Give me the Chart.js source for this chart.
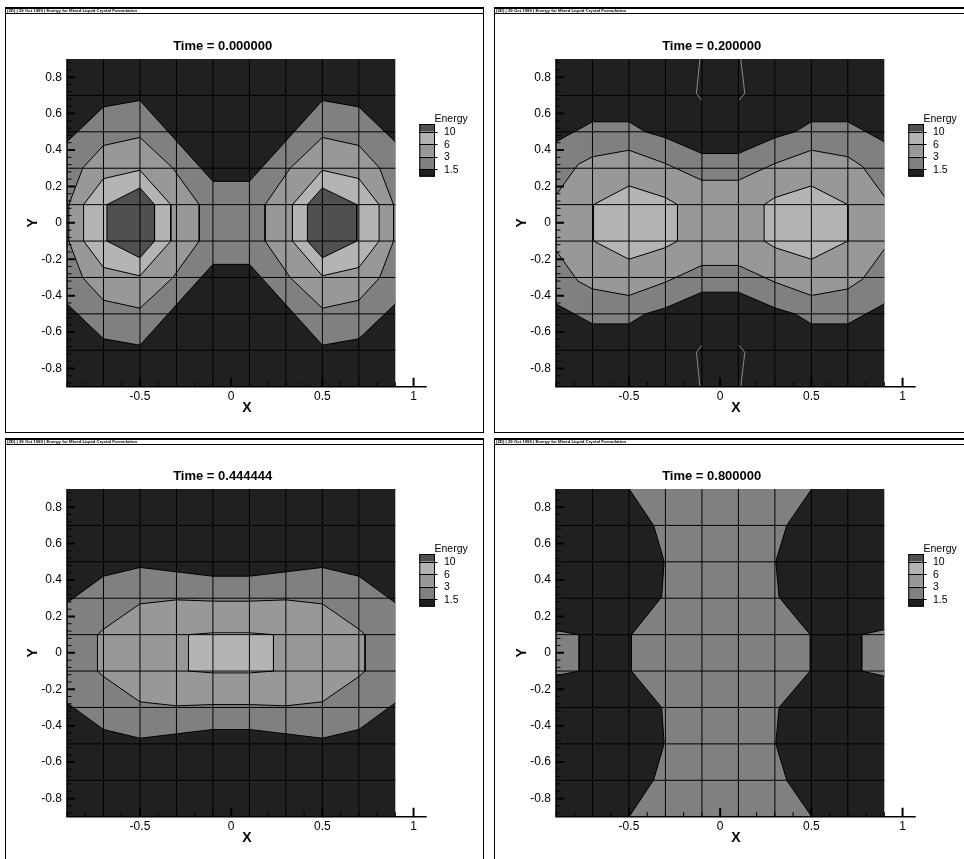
<!DOCTYPE html>
<html>
<head>
<meta charset="utf-8">
<title>Energy for Mixed Liquid Crystal Formulation</title>
<script src="https://cdn.jsdelivr.net/npm/chart.js@4.4.1/dist/chart.umd.min.js"></script>
<style>
  html, body { margin: 0; padding: 0; background: #fff; }
  body { position: relative; width: 964px; height: 859px; overflow: hidden; font-family: "Liberation Sans", Arial, sans-serif; }
  canvas { position: absolute; }
  .frame { position: absolute; border: 1px solid #000; box-sizing: border-box; pointer-events: none; }
  .frame .hdr { height: 4px; border-top: 1px solid #000; border-bottom: 1px solid #000; font-size: 4.3px; font-weight: bold; line-height: 4px; padding-left: 1px; white-space: nowrap; overflow: hidden; }
</style>
</head>
<body>
<canvas id="c0" width="482" height="430" style="left:0;top:0"></canvas>
<canvas id="c1" width="475" height="430" style="left:489px;top:0"></canvas>
<canvas id="c2" width="482" height="430" style="left:0;top:430px"></canvas>
<canvas id="c3" width="475" height="430" style="left:489px;top:430px"></canvas>

<div class="frame" style="left:5px;top:7px;width:479px;height:426px"><div class="hdr">(2D) | 29 Oct 1999 | Energy for Mixed Liquid Crystal Formulation</div></div>
<div class="frame" style="left:494px;top:7px;width:480px;height:426px"><div class="hdr">(2D) | 29 Oct 1999 | Energy for Mixed Liquid Crystal Formulation</div></div>
<div class="frame" style="left:5px;top:438px;width:479px;height:430px"><div class="hdr">(2D) | 29 Oct 1999 | Energy for Mixed Liquid Crystal Formulation</div></div>
<div class="frame" style="left:494px;top:438px;width:480px;height:430px"><div class="hdr">(2D) | 29 Oct 1999 | Energy for Mixed Liquid Crystal Formulation</div></div>

<script>
// ---- data ----
const panelTitles = ['Time = 0.000000', 'Time = 0.200000', 'Time = 0.444444', 'Time = 0.800000'];

// contour levels and the band colours (below 1.5, 1.5-3, 3-6, 6-10, above 10)
const energyLevels = ['10', '6', '3', '1.5'];
const bandColors = ['#202020', '#808080', '#989898', '#b4b4b4', '#505050'];

// mesh of the computation (interior grid lines) and the domain
const domainX = [-0.9, 0.9];
const domainY = [-0.9, 0.9];
const meshX = [-0.7, -0.5, -0.3, -0.1, 0.1, 0.3, 0.5, 0.7];
const meshY = [-0.7, -0.5, -0.3, -0.1, 0.1, 0.3, 0.5, 0.7];

const xTickValues = [-0.5, 0, 0.5, 1];
const xTickLabels = ['-0.5', '0', '0.5', '1'];
const yTickValues = [-0.8, -0.6, -0.4, -0.2, 0, 0.2, 0.4, 0.6, 0.8];
const yTickLabels = ['-0.8', '-0.6', '-0.4', '-0.2', '0', '0.2', '0.4', '0.6', '0.8'];

// Time = 0.000000
const t0Level15 = [[-0.9,0.445],[-0.7,0.637],[-0.5,0.672],[-0.3,0.45],[-0.1,0.228],[0.1,0.228],[0.3,0.45],[0.5,0.672],[0.7,0.637],[0.9,0.445],
  [0.9,-0.445],[0.7,-0.637],[0.5,-0.672],[0.3,-0.45],[0.1,-0.228],[-0.1,-0.228],[-0.3,-0.45],[-0.5,-0.672],[-0.7,-0.637],[-0.9,-0.445]];
const t0Level3Left = [[-0.89,0.1],[-0.813,0.302],[-0.7,0.425],[-0.5,0.469],[-0.321,0.302],[-0.175,0.1],[-0.175,-0.1],[-0.321,-0.302],[-0.5,-0.469],[-0.7,-0.425],[-0.813,-0.302],[-0.89,-0.1]];
const t0Level3Right = [[0.89,0.1],[0.813,0.302],[0.7,0.425],[0.5,0.469],[0.325,0.302],[0.186,0.1],[0.186,-0.1],[0.325,-0.302],[0.5,-0.469],[0.7,-0.425],[0.813,-0.302],[0.89,-0.1]];
const t0Level6Left = [[-0.809,0.1],[-0.7,0.243],[-0.5,0.289],[-0.331,0.1],[-0.331,-0.1],[-0.5,-0.291],[-0.7,-0.245],[-0.809,-0.1]];
const t0Level6Right = [[0.811,0.1],[0.7,0.243],[0.5,0.289],[0.336,0.1],[0.336,-0.1],[0.5,-0.291],[0.7,-0.245],[0.811,-0.1]];
const t0Level10Left = [[-0.681,0.1],[-0.5,0.192],[-0.42,0.1],[-0.42,-0.1],[-0.5,-0.192],[-0.681,-0.1]];
const t0Level10Right = [[0.418,0.1],[0.5,0.192],[0.689,0.1],[0.689,-0.1],[0.5,-0.192],[0.418,-0.1]];

// Time = 0.200000
const t2Level15 = [[-0.9,0.445],[-0.7,0.555],[-0.5,0.555],[-0.41,0.5],[-0.3,0.467],[-0.1,0.381],[0.1,0.381],[0.3,0.467],[0.41,0.5],[0.5,0.555],[0.7,0.555],[0.9,0.445],
  [0.9,-0.445],[0.7,-0.555],[0.5,-0.555],[0.41,-0.5],[0.3,-0.467],[0.1,-0.381],[-0.1,-0.381],[-0.3,-0.467],[-0.41,-0.5],[-0.5,-0.555],[-0.7,-0.555],[-0.9,-0.445]];
const t2Level3 = [[-0.9,0.152],[-0.78,0.32],[-0.7,0.363],[-0.5,0.399],[-0.3,0.326],[-0.1,0.234],[0.1,0.234],[0.3,0.326],[0.5,0.399],[0.7,0.363],[0.78,0.31],[0.9,0.145],
  [0.9,-0.145],[0.78,-0.31],[0.7,-0.363],[0.5,-0.399],[0.3,-0.326],[0.1,-0.234],[-0.1,-0.234],[-0.3,-0.326],[-0.5,-0.399],[-0.7,-0.363],[-0.78,-0.32],[-0.9,-0.152]];
const t2Level6Left = [[-0.694,0.1],[-0.5,0.203],[-0.3,0.139],[-0.234,0.1],[-0.234,-0.1],[-0.3,-0.136],[-0.5,-0.2],[-0.694,-0.1]];
const t2Level6Right = [[0.241,0.1],[0.3,0.139],[0.5,0.203],[0.7,0.1],[0.7,-0.1],[0.5,-0.2],[0.3,-0.136],[0.241,-0.1]];
const t2ThinLines = [
  [[-0.111,0.9],[-0.13,0.711],[-0.102,0.674]],
  [[0.113,0.9],[0.135,0.711],[0.104,0.674]],
  [[-0.102,-0.674],[-0.13,-0.711],[-0.111,-0.9]],
  [[0.104,-0.674],[0.135,-0.711],[0.113,-0.9]]
];

// Time = 0.444444
const t4Level15 = [[-0.9,0.275],[-0.7,0.421],[-0.5,0.469],[-0.3,0.445],[-0.1,0.421],[0.1,0.421],[0.3,0.445],[0.5,0.469],[0.7,0.421],[0.9,0.275],
  [0.9,-0.275],[0.7,-0.421],[0.5,-0.469],[0.3,-0.445],[0.1,-0.421],[-0.1,-0.421],[-0.3,-0.445],[-0.5,-0.469],[-0.7,-0.421],[-0.9,-0.275]];
const t4Level3 = [[-0.733,0.1],[-0.7,0.13],[-0.5,0.269],[-0.3,0.291],[-0.1,0.284],[0.1,0.284],[0.3,0.291],[0.5,0.269],[0.7,0.13],[0.734,0.1],
  [0.734,-0.1],[0.7,-0.13],[0.5,-0.269],[0.3,-0.291],[0.1,-0.284],[-0.1,-0.284],[-0.3,-0.291],[-0.5,-0.269],[-0.7,-0.13],[-0.733,-0.1]];
const t4Level6 = [[-0.234,0.1],[-0.1,0.11],[0.1,0.11],[0.232,0.1],[0.232,-0.1],[0.1,-0.11],[-0.1,-0.11],[-0.234,-0.1]];

// Time = 0.800000
const t8Level15Centre = [[-0.4986,0.9],[-0.365,0.7],[-0.307,0.502],[-0.321,0.306],[-0.486,0.1],[-0.486,-0.1],[-0.321,-0.3],[-0.307,-0.5],[-0.365,-0.698],[-0.4986,-0.9],
  [0.502,-0.9],[0.365,-0.7],[0.305,-0.5],[0.323,-0.3],[0.493,-0.1],[0.493,0.1],[0.323,0.306],[0.305,0.502],[0.365,0.7],[0.502,0.9]];
const t8Level15Left = [[-0.9,0.123],[-0.773,0.1],[-0.773,-0.1],[-0.9,-0.125]];
const t8Level15Right = [[0.9,0.128],[0.776,0.1],[0.776,-0.1],[0.9,-0.128]];

// which band each region belongs to (index into bandColors)
const panelRegions = [
  [[t0Level15, 1], [t0Level3Left, 2], [t0Level3Right, 2], [t0Level6Left, 3], [t0Level6Right, 3], [t0Level10Left, 4], [t0Level10Right, 4]],
  [[t2Level15, 1], [t2Level3, 2], [t2Level6Left, 3], [t2Level6Right, 3]],
  [[t4Level15, 1], [t4Level3, 2], [t4Level6, 3]],
  [[t8Level15Centre, 1], [t8Level15Left, 1], [t8Level15Right, 1]]
];
const panelThinLines = [[], t2ThinLines, [], []];

// ---- drawing ----
const FONT = '"Liberation Sans", Arial, Helvetica, sans-serif';
const X_MAX = 1.072;

function onDomainEdge(a, b) {
  const e = 0.895;
  return (Math.abs(a[0]) >= e && Math.abs(b[0]) >= e && Math.sign(a[0]) === Math.sign(b[0])) ||
         (Math.abs(a[1]) >= e && Math.abs(b[1]) >= e && Math.sign(a[1]) === Math.sign(b[1]));
}

// filled region, no outline
function regionSet(pts, color) {
  return {
    data: pts.concat([pts[0]]).map(p => ({ x: p[0], y: p[1] })),
    fill: 'shape',
    backgroundColor: color,
    borderColor: 'rgba(0,0,0,0)',
    borderWidth: 0,
    pointRadius: 0,
    tension: 0
  };
}

// contour line around a region, broken where it runs along the domain edge
function contourSet(pts) {
  const ring = pts.concat([pts[0]]);
  const data = [];
  for (let i = 0; i < ring.length; i++) {
    data.push({ x: ring[i][0], y: ring[i][1] });
    if (i < ring.length - 1 && onDomainEdge(ring[i], ring[i + 1])) data.push({ x: ring[i][0], y: null });
  }
  return {
    data,
    fill: false,
    spanGaps: false,
    borderColor: '#000',
    borderWidth: 1,
    pointRadius: 0,
    tension: 0
  };
}

function lineSet(pts, color) {
  return {
    data: pts.map(p => ({ x: p[0], y: p[1] })),
    fill: false,
    borderColor: color,
    borderWidth: 1,
    pointRadius: 0,
    tension: 0
  };
}

function buildDatasets(regions, thinLines) {
  const sets = [];
  const domain = [[domainX[0], domainY[0]], [domainX[1], domainY[0]], [domainX[1], domainY[1]], [domainX[0], domainY[1]]];
  sets.push(regionSet(domain, bandColors[0]));
  regions.forEach(([pts, band]) => sets.push(regionSet(pts, bandColors[band])));
  regions.forEach(([pts]) => sets.push(contourSet(pts)));
  meshX.forEach(x => sets.push(lineSet([[x, domainY[0]], [x, domainY[1]]], '#000')));
  meshY.forEach(y => sets.push(lineSet([[domainX[0], y], [domainX[1], y]], '#000')));
  thinLines.forEach(pts => sets.push(lineSet(pts, '#8a8a8a')));
  // first dataset at the bottom of the stack
  sets.forEach((s, i) => { s.order = sets.length - i; });
  return sets;
}

// axis lines with inward tick marks, Tecplot style
const axisPlugin = {
  id: 'tecAxes',
  afterDatasetsDraw(chart) {
    const { ctx, chartArea: a, scales: { x, y } } = chart;
    ctx.save();
    ctx.strokeStyle = '#000';
    ctx.lineWidth = 1.5;
    ctx.beginPath();
    ctx.moveTo(a.left, a.top);
    ctx.lineTo(a.left, a.bottom);
    ctx.lineTo(a.right, a.bottom);
    ctx.stroke();

    // major ticks
    ctx.lineWidth = 2;
    ctx.beginPath();
    xTickValues.forEach(v => {
      const px = x.getPixelForValue(v);
      ctx.moveTo(px, a.bottom);
      ctx.lineTo(px, a.bottom - 9);
    });
    yTickValues.forEach(v => {
      const py = y.getPixelForValue(v);
      ctx.moveTo(a.left, py);
      ctx.lineTo(a.left + 8, py);
    });
    ctx.stroke();

    // minor ticks
    ctx.lineWidth = 1;
    ctx.beginPath();
    for (let k = -9; k <= 10; k++) {
      if (k % 5 === 0) continue;
      const px = x.getPixelForValue(k / 10);
      ctx.moveTo(px, a.bottom);
      ctx.lineTo(px, a.bottom - 4.5);
    }
    for (let k = -22; k <= 22; k++) {
      if (k % 5 === 0) continue;
      const py = y.getPixelForValue(k * 0.04);
      ctx.moveTo(a.left, py);
      ctx.lineTo(a.left + 4.5, py);
    }
    ctx.stroke();
    ctx.restore();
  }
};

// contour legend to the right of the plot
const legendPlugin = {
  id: 'energyLegend',
  afterDraw(chart) {
    const { ctx, chartArea: a } = chart;
    const left = a.left + 352.3, w = 15.7;
    const edges = [65, 72.7, 85.3, 97.7, 110.3, 117.7].map(v => a.top + v);
    ctx.save();
    // swatches: top band is the highest level
    for (let i = 0; i < 5; i++) {
      ctx.fillStyle = bandColors[4 - i];
      ctx.fillRect(left, edges[i], w, edges[i + 1] - edges[i]);
    }
    ctx.strokeStyle = '#000';
    ctx.lineWidth = 1;
    ctx.strokeRect(left + 0.5, edges[0] + 0.5, w - 1, edges[5] - edges[0] - 1);
    ctx.beginPath();
    for (let i = 1; i < 5; i++) {
      ctx.moveTo(left, Math.round(edges[i]) + 0.5);
      ctx.lineTo(left + w + 2.5, Math.round(edges[i]) + 0.5);
    }
    ctx.stroke();
    ctx.fillStyle = '#000';
    ctx.font = '10.5px ' + FONT;
    ctx.textBaseline = 'middle';
    ctx.textAlign = 'left';
    ctx.fillText('Energy', a.left + 367.5, a.top + 60.5);
    energyLevels.forEach((lab, i) => ctx.fillText(lab, a.left + 377, edges[i + 1] + 0.5));
    ctx.restore();
  }
};

function makeChart(id, idx) {
  const canvas = document.getElementById(id);
  const W = canvas.width;
  const chartRight = 426.7;
  return new Chart(canvas, {
    type: 'line',
    data: { datasets: buildDatasets(panelRegions[idx], panelThinLines[idx]) },
    options: {
      responsive: false,
      animation: false,
      devicePixelRatio: 1,
      events: [],
      layout: { padding: { left: 18.7, right: W - chartRight, top: 0, bottom: 0 } },
      plugins: {
        legend: { display: false },
        tooltip: { enabled: false },
        title: {
          display: true,
          text: panelTitles[idx],
          color: '#000',
          font: { family: FONT, size: 13, weight: 'bold' },
          padding: { top: 38.9, bottom: 4.5 }
        }
      },
      scales: {
        x: {
          type: 'linear',
          min: domainX[0],
          max: X_MAX,
          grid: { display: false, drawTicks: false },
          border: { display: false },
          afterBuildTicks: s => { s.ticks = xTickValues.map(v => ({ value: v })); },
          afterFit: s => { s.height = 43.3; },
          ticks: {
            autoSkip: false,
            maxRotation: 0,
            padding: 2.5,
            color: '#000',
            font: { family: FONT, size: 12 },
            callback: (v, i) => xTickLabels[i]
          },
          title: {
            display: true,
            text: 'X',
            color: '#000',
            font: { family: FONT, size: 14, weight: 'bold' },
            padding: { top: 0, bottom: 13.3 }
          }
        },
        y: {
          type: 'linear',
          min: domainY[0],
          max: domainY[1],
          grid: { display: false, drawTicks: false },
          border: { display: false },
          afterBuildTicks: s => { s.ticks = yTickValues.map(v => ({ value: v })); },
          afterFit: s => { s.width = 48.3; },
          ticks: {
            autoSkip: false,
            padding: 5,
            color: '#000',
            font: { family: FONT, size: 12 },
            callback: (v, i) => yTickLabels[i]
          },
          title: {
            display: true,
            text: 'Y',
            color: '#000',
            font: { family: FONT, size: 14, weight: 'bold' },
            padding: { top: 5.9, bottom: 0 }
          }
        }
      }
    },
    plugins: [axisPlugin, legendPlugin]
  });
}

['c0', 'c1', 'c2', 'c3'].forEach((id, i) => makeChart(id, i));
</script>
</body>
</html>
